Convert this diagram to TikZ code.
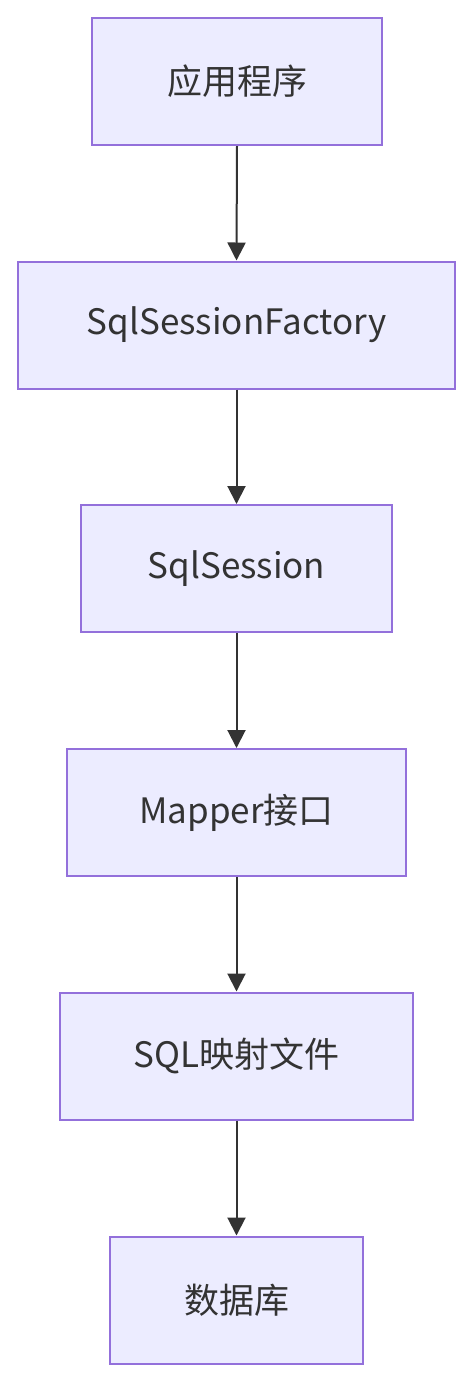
\documentclass[tikz,border=0pt]{standalone}
\usepackage{fontspec}
\setmainfont{Noto Sans CJK SC}
\usetikzlibrary{arrows.meta}
\definecolor{boxfill}{HTML}{ECECFF}
\definecolor{boxline}{HTML}{9370DB}
\definecolor{txt}{HTML}{333333}
\begin{document}
\begin{tikzpicture}[x=1pt,y=-1pt,
  box/.style={draw=boxline, fill=boxfill, line width=2pt, minimum height=127pt, inner sep=0pt, text=txt, font=\fontsize{35}{40}\selectfont},
  conn/.style={draw=txt, line width=2pt, -{Triangle[length=18pt,width=18pt]}}]
\useasboundingbox (0,0) rectangle (474,1382);
\fill[white] (0,0) rectangle (474,1382);
\node[box, minimum width=290pt] (a) at (237,81.5) {应用程序};
\node[box, minimum width=437pt] (b) at (236.5,325) {SqlSessionFactory};
\node[box, minimum width=311pt] (c) at (236.5,568.5) {SqlSession};
\node[box, minimum width=339pt] (d) at (236.5,812.5) {Mapper接口};
\node[box, minimum width=353pt] (e) at (236.5,1056) {SQL映射文件};
\node[box, minimum width=253pt] (f) at (236.5,1300) {数据库};
\foreach \u/\v in {a/b,b/c,c/d,d/e,e/f}
  \draw[conn] (\u.south) -- (\v.north);
\end{tikzpicture}
\end{document}
